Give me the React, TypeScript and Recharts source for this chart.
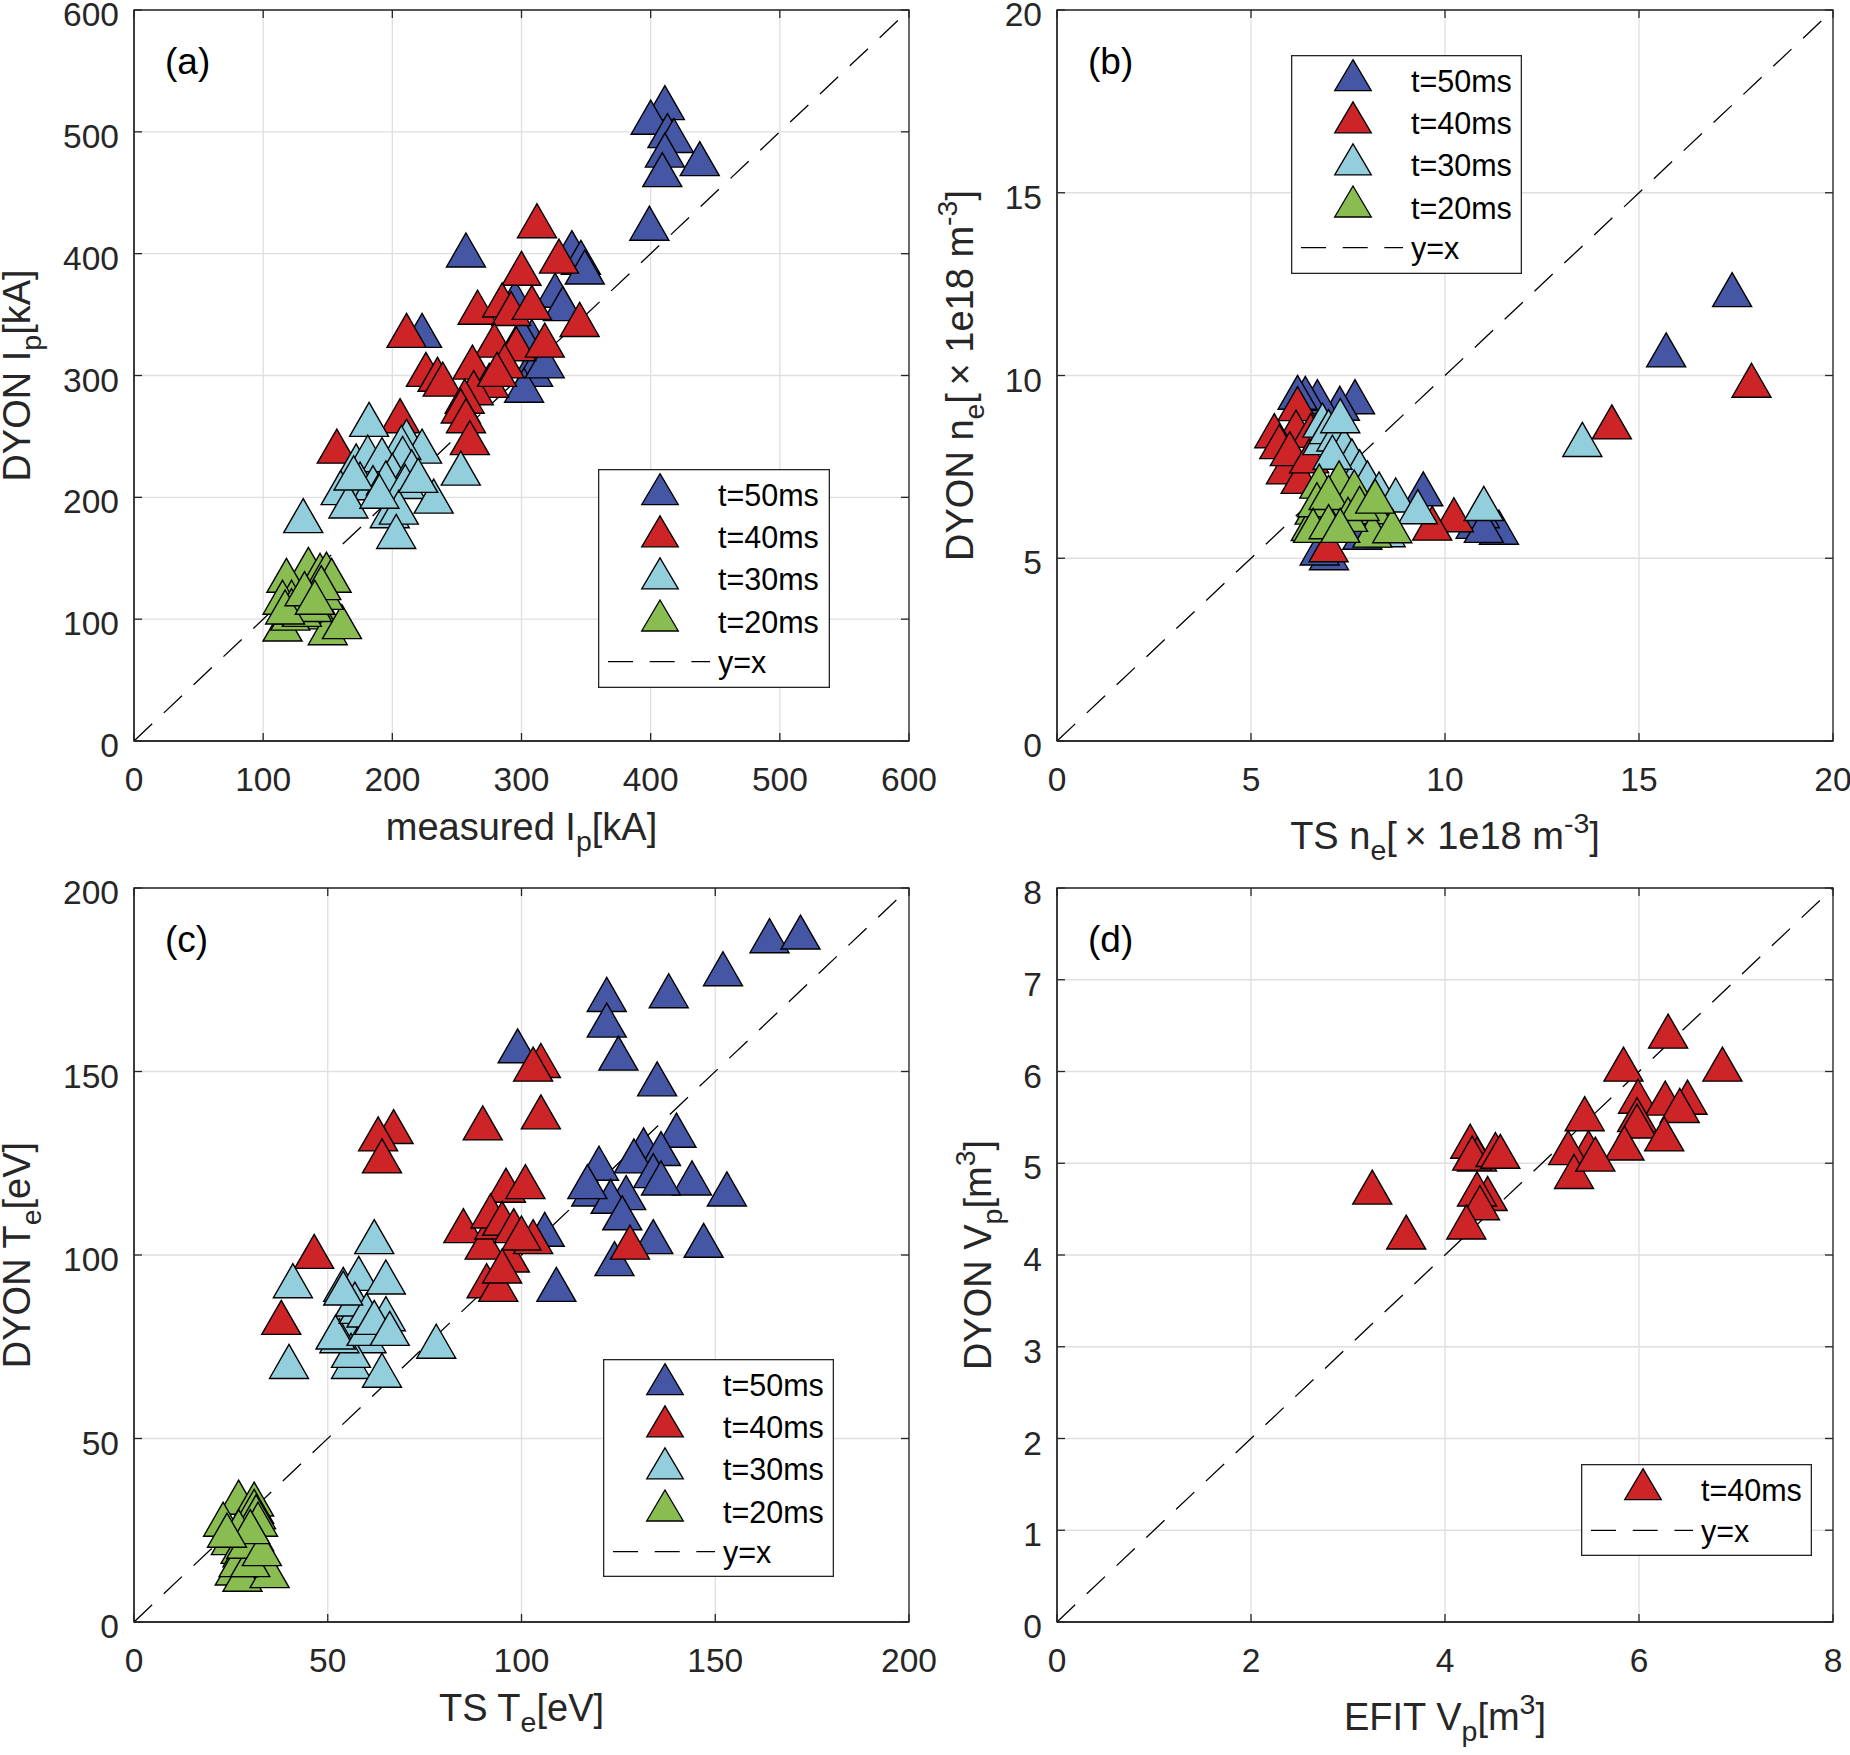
import React from 'react';
import {
  ScatterChart,
  Scatter,
  XAxis,
  YAxis,
  CartesianGrid,
  ReferenceArea,
  ReferenceLine,
  Legend,
} from 'recharts';

const FONT = '"Liberation Sans", Arial, Helvetica, sans-serif';
const INK = '#262626';
const GRID = '#dfdfdf';

const BLUE = '#4556a4';
const RED = '#cd2428';
const CYAN = '#93cedd';
const GREEN = '#89bd51';

// (a) plasma current [kA]: [measured, DYON]
const ip50 = [
  [411, 524], [400, 512], [413, 501], [418, 497], [411, 485], [409, 469], [438, 478], [399, 425],
  [257, 403], [223, 337], [339, 405], [346, 397], [349, 389], [326, 370], [332, 359], [295, 364],
  [308, 332], [312, 317], [309, 305], [302, 292], [300, 335], [318, 312],
];
const ip40 = [
  [312, 427], [329, 398], [300, 388], [266, 356], [285, 362], [292, 355], [308, 360], [345, 346],
  [211, 337], [279, 329], [296, 326], [318, 329], [226, 305], [235, 301], [239, 297], [262, 311],
  [275, 296], [263, 290], [256, 283], [253, 275], [257, 267], [260, 249], [206, 267], [157, 242],
  [287, 312], [281, 305],
];
const ip30 = [
  [182, 264], [211, 250], [223, 242], [207, 245], [172, 230], [181, 237], [192, 235], [208, 236],
  [200, 222], [215, 225], [175, 215], [185, 212], [195, 216], [210, 213], [160, 208], [166, 197],
  [198, 189], [205, 192], [203, 172], [232, 201], [253, 224], [131, 185], [170, 220], [190, 205],
  [220, 218],
];
const ip20 = [
  [135, 145], [118, 136], [144, 140], [149, 141], [153, 136], [122, 118], [128, 116], [115, 118],
  [122, 111], [141, 110], [147, 106], [115, 96], [150, 93], [161, 98], [121, 105], [125, 110],
  [130, 108], [138, 112], [117, 110], [147, 122], [145, 130], [132, 125], [140, 118],
];

// (b) electron density [1e18 m^-3]: [TS, DYON]
const ne50 = [
  [7.68, 9.42], [7.29, 9.24], [6.71, 9.42], [6.4, 9.51], [6.2, 9.54], [9.44, 6.9], [11.39, 5.85],
  [10.79, 6.01], [10.9, 6.3], [7.87, 5.71], [7.01, 5.15], [6.77, 5.28], [17.4, 12.35], [15.7, 10.7],
  [8.5, 6.0], [11.0, 5.9],
];
const ne40 = [
  [6.2, 9.23], [6.16, 8.59], [5.6, 8.49], [5.73, 8.19], [5.9, 7.5], [6.28, 7.24], [6.54, 8.5],
  [7.0, 5.37], [10.23, 6.19], [9.67, 5.96], [17.9, 9.87], [14.3, 8.73], [6.0, 8.0], [6.5, 7.8],
];
const ne30 = [
  [6.84, 8.78], [6.84, 8.3], [7.0, 8.6], [7.2, 8.4], [7.4, 8.1], [7.6, 7.8], [7.8, 7.5], [8.0, 7.2],
  [8.3, 6.9], [8.73, 6.73], [9.3, 6.41], [11.0, 6.5], [8.47, 5.78], [13.54, 8.25], [7.1, 7.9],
  [7.3, 8.9],
];
const ne20 = [
  [6.76, 7.11], [7.27, 7.2], [7.66, 6.95], [8.13, 6.41], [8.13, 5.77], [8.64, 5.89], [7.27, 6.23],
  [6.64, 6.4], [6.54, 5.95], [6.7, 6.6], [7.0, 6.8], [7.5, 6.2], [7.8, 6.5], [6.6, 5.9], [7.0, 6.0],
  [7.3, 5.9], [8.2, 6.7],
];

// (c) electron temperature [eV]: [TS, DYON]
const te50 = [
  [164, 187], [172, 188], [152, 178], [138, 172], [122, 171], [122, 164], [125, 155], [99, 157],
  [135, 148], [140, 134], [153, 118], [147, 104], [134, 105], [124, 99], [109, 92], [106, 107],
  [120, 125], [131.5, 130], [136, 129], [129, 127], [144, 121], [118, 118], [127, 117], [134, 123],
  [136, 121], [123, 116], [126, 111.5], [117, 120],
];
const te40 = [
  [67, 135], [63, 133], [64, 127], [90, 136], [105, 139], [105, 153], [103, 152], [46.5, 101],
  [38, 83], [85, 108], [96, 119], [101, 120], [90.5, 103.5], [93, 109], [91, 93], [94, 92],
  [97, 100], [103, 105], [92, 112], [95, 110], [98, 108], [100, 106], [95, 97], [128, 103.5],
];
const te30 = [
  [62, 105], [41, 93], [40, 71], [54, 92], [58, 95], [65, 94], [54, 82], [65, 84], [60, 78],
  [78, 76.5], [56, 71], [64, 68.6], [56, 74], [53, 78], [52, 79], [60, 80], [58, 86], [57, 88],
  [60, 85], [62, 83], [66, 80], [54, 91],
];
const te20 = [
  [27, 34], [31, 33.5], [31, 31.5], [31.5, 30], [32, 28], [23, 28], [31, 24], [25, 23], [27, 26],
  [27.5, 20.6], [28, 19.7], [26, 14.7], [28, 13], [35, 14], [27, 17], [30, 17], [29, 22], [33, 20],
  [30, 26], [24, 25],
];

// (d) plasma volume [m^3]: [EFIT, DYON]
const vp40 = [
  [6.3, 6.44], [6.86, 6.08], [5.84, 6.08], [5.99, 5.73], [6.27, 5.71], [6.5, 5.72], [6.42, 5.63],
  [5.44, 5.54], [5.98, 5.53], [5.98, 5.46], [6.26, 5.32], [5.85, 5.22], [5.48, 5.17], [5.27, 5.17],
  [5.33, 4.91], [5.55, 5.1], [4.26, 5.24], [4.33, 5.1], [4.28, 5.11], [4.52, 5.15], [4.57, 5.13],
  [4.44, 4.67], [4.33, 4.72], [4.36, 4.57], [4.22, 4.36], [3.6, 4.25], [3.25, 4.74],
];

const ticksIp = [0, 100, 200, 300, 400, 500, 600];
const ticksNe = [0, 5, 10, 15, 20];
const ticksTe = [0, 50, 100, 150, 200];
const ticksVpX = [0, 2, 4, 6, 8];
const ticksVpY = [0, 1, 2, 3, 4, 5, 6, 7, 8];

type Part = { t: string; sub?: boolean; sup?: boolean };
type Series = { name: string; color: string; pts: number[][] };
type Box = { left: number; top: number; w: number; h: number };
type PanelCfg = {
  pos: [number, number];
  W: number;
  H: number;
  plot: Box;
  xMax: number;
  yMax: number;
  xTicks: number[];
  yTicks: number[];
  series: Series[];
  xLabel: Part[];
  yLabel: Part[];
  xLabelDy: number;
  yLabelDx: number;
  letter: string;
  legend: Box;
};

const TICK_FS = 33.5;
const LABEL_FS = 38;
const LEGEND_FS = 30.5;
const LETTER_FS = 37;

// upward triangle centred on its bounding box
const triPath = (cx: number, cy: number, hw: number, hh: number) =>
  `M${cx},${cy - hh} L${cx + hw},${cy + hh} L${cx - hw},${cy + hh} Z`;

function rich(parts: Part[], fs: number) {
  let shift = 0;
  return parts.map((p, i) => {
    const target = p.sub ? fs * 0.3 : p.sup ? -fs * 0.42 : 0;
    const dy = target - shift;
    shift = target;
    return (
      <tspan key={i} dy={dy} fontSize={p.sub || p.sup ? fs * 0.75 : fs}>
        {p.t}
      </tspan>
    );
  });
}

function Panel({ c }: { c: PanelCfg }) {
  const { plot } = c;
  const right = plot.left + plot.w;
  const bottom = plot.top + plot.h;

  const xTick = (props: any) => {
    const { x, payload } = props;
    return (
      <g>
        <line x1={x} x2={x} y1={bottom} y2={bottom - 8} stroke={INK} strokeWidth={1.3} />
        <line x1={x} x2={x} y1={plot.top} y2={plot.top + 8} stroke={INK} strokeWidth={1.3} />
        <text x={x} y={bottom + 50} textAnchor="middle" fontSize={TICK_FS} fill={INK} fontFamily={FONT}>
          {payload.value}
        </text>
      </g>
    );
  };

  const yTick = (props: any) => {
    const { y, payload } = props;
    return (
      <g>
        <line x1={plot.left} x2={plot.left + 8} y1={y} y2={y} stroke={INK} strokeWidth={1.3} />
        <line x1={right} x2={right - 8} y1={y} y2={y} stroke={INK} strokeWidth={1.3} />
        <text x={plot.left - 15} y={y + 16} textAnchor="end" fontSize={TICK_FS} fill={INK} fontFamily={FONT}>
          {payload.value}
        </text>
      </g>
    );
  };

  const xLabel = (props: any) => {
    const vb = props.viewBox;
    return (
      <text x={vb.x + vb.width / 2} y={vb.y + c.xLabelDy} textAnchor="middle" fill={INK} fontFamily={FONT} fontSize={LABEL_FS}>
        {rich(c.xLabel, LABEL_FS)}
      </text>
    );
  };

  const yLabel = (props: any) => {
    const vb = props.viewBox;
    const cx = vb.x + vb.width + c.yLabelDx;
    const cy = vb.y + vb.height / 2;
    return (
      <text x={cx} y={cy} transform={`rotate(-90 ${cx} ${cy})`} textAnchor="middle" fill={INK} fontFamily={FONT} fontSize={LABEL_FS}>
        {rich(c.yLabel, LABEL_FS)}
      </text>
    );
  };

  const letter = (props: any) => {
    const vb = props.viewBox;
    return (
      <text x={vb.x + 31} y={vb.y + 64} fill="#000" fontFamily={FONT} fontSize={LETTER_FS}>
        {c.letter}
      </text>
    );
  };

  const lg = c.legend;
  const legendBox = () => (
    <svg width={lg.w} height={lg.h} style={{ display: 'block' }}>
      <rect x={0.65} y={0.65} width={lg.w - 1.3} height={lg.h - 1.3} fill="#fff" stroke={INK} strokeWidth={1.3} />
      {c.series.map((s, i) => {
        const cy = 20.2 + 42.1 * i;
        return (
          <g key={s.name}>
            <path d={triPath(62, cy, 18.3, 15.5)} fill={s.color} stroke="#000" strokeWidth={1.3} />
            <text x={120} y={cy + 17} fontSize={LEGEND_FS} fontFamily={FONT} fill="#000">
              {s.name}
            </text>
          </g>
        );
      })}
      {(() => {
        const cy = 20.2 + 42.1 * c.series.length;
        return (
          <g>
            <line x1={10} x2={112} y1={cy + 4} y2={cy + 4} stroke="#000" strokeWidth={1.3} strokeDasharray="25 16.7" />
            <text x={120} y={cy + 15.5} fontSize={LEGEND_FS} fontFamily={FONT} fill="#000">
              y=x
            </text>
          </g>
        );
      })()}
    </svg>
  );

  return (
    <div style={{ position: 'absolute', left: c.pos[0], top: c.pos[1] }}>
      <ScatterChart
        width={c.W}
        height={c.H}
        margin={{ top: plot.top, right: c.W - right, bottom: 0, left: 0 }}
        style={{ fontFamily: FONT }}
      >
        <CartesianGrid stroke={GRID} strokeWidth={1.3} />
        <XAxis
          type="number"
          dataKey="x"
          domain={[0, c.xMax]}
          ticks={c.xTicks}
          interval={0}
          height={c.H - bottom}
          axisLine={{ stroke: INK, strokeWidth: 1.3 }}
          tickLine={false}
          tick={xTick}
          label={xLabel}
        />
        <YAxis
          type="number"
          dataKey="y"
          domain={[0, c.yMax]}
          ticks={c.yTicks}
          interval={0}
          width={plot.left}
          axisLine={{ stroke: INK, strokeWidth: 1.3 }}
          tickLine={false}
          tick={yTick}
          label={yLabel}
        />
        <ReferenceArea
          x1={0}
          x2={c.xMax}
          y1={0}
          y2={c.yMax}
          fill="none"
          stroke={INK}
          strokeWidth={1.3}
          label={letter}
        />
        {c.series.map((s) => (
          <Scatter
            key={s.name}
            name={s.name}
            data={s.pts.map(([x, y]) => ({ x, y }))}
            isAnimationActive={false}
            shape={(p: any) => (
              <path d={triPath(p.cx, p.cy, 19.5, 17)} fill={s.color} stroke="#000" strokeWidth={1.4} />
            )}
          />
        ))}
        <ReferenceLine
          segment={[
            { x: 0, y: 0 },
            { x: c.xMax, y: c.yMax },
          ]}
          stroke="#000"
          strokeWidth={1.3}
          strokeDasharray="25 16"
        />
        <Legend
          layout="vertical"
          align="center"
          verticalAlign="middle"
          wrapperStyle={{ left: lg.left, top: lg.top, width: lg.w, height: lg.h }}
          content={legendBox}
        />
      </ScatterChart>
    </div>
  );
}

const fourTimes = (a: number[][], b: number[][], cc: number[][], d: number[][]): Series[] => [
  { name: 't=50ms', color: BLUE, pts: a },
  { name: 't=40ms', color: RED, pts: b },
  { name: 't=30ms', color: CYAN, pts: cc },
  { name: 't=20ms', color: GREEN, pts: d },
];

const NE_UNIT = '[\u2009×\u00a01e18 m';

const panels: PanelCfg[] = [
  {
    pos: [0, 0],
    W: 925,
    H: 877,
    plot: { left: 134, top: 10, w: 775, h: 731 },
    xMax: 600,
    yMax: 600,
    xTicks: ticksIp,
    yTicks: ticksIp,
    series: fourTimes(ip50, ip40, ip30, ip20),
    xLabel: [{ t: 'measured I' }, { t: 'p', sub: true }, { t: '[kA]' }],
    yLabel: [{ t: 'DYON I' }, { t: 'p', sub: true }, { t: '[kA]' }],
    xLabelDy: 99,
    yLabelDx: -104.5,
    letter: '(a)',
    legend: { left: 598, top: 469, w: 232, h: 219 },
  },
  {
    pos: [925, 0],
    W: 925,
    H: 877,
    plot: { left: 132, top: 10, w: 776, h: 731 },
    xMax: 20,
    yMax: 20,
    xTicks: ticksNe,
    yTicks: ticksNe,
    series: fourTimes(ne50, ne40, ne30, ne20),
    xLabel: [{ t: 'TS n' }, { t: 'e', sub: true }, { t: NE_UNIT }, { t: '-3', sup: true }, { t: ']' }],
    yLabel: [{ t: 'DYON n' }, { t: 'e', sub: true }, { t: NE_UNIT }, { t: '-3', sup: true }, { t: ']' }],
    xLabelDy: 108,
    yLabelDx: -84,
    letter: '(b)',
    legend: { left: 366, top: 55, w: 231, h: 219 },
  },
  {
    pos: [0, 877],
    W: 925,
    H: 878,
    plot: { left: 134, top: 11, w: 775, h: 734 },
    xMax: 200,
    yMax: 200,
    xTicks: ticksTe,
    yTicks: ticksTe,
    series: fourTimes(te50, te40, te30, te20),
    xLabel: [{ t: 'TS T' }, { t: 'e', sub: true }, { t: '[eV]' }],
    yLabel: [{ t: 'DYON T' }, { t: 'e', sub: true }, { t: '[eV]' }],
    xLabelDy: 99,
    yLabelDx: -104.5,
    letter: '(c)',
    legend: { left: 603, top: 482, w: 231, h: 218 },
  },
  {
    pos: [925, 877],
    W: 925,
    H: 878,
    plot: { left: 132, top: 11, w: 776, h: 734 },
    xMax: 8,
    yMax: 8,
    xTicks: ticksVpX,
    yTicks: ticksVpY,
    series: [{ name: 't=40ms', color: RED, pts: vp40 }],
    xLabel: [{ t: 'EFIT V' }, { t: 'p', sub: true }, { t: '[m' }, { t: '3', sup: true }, { t: ']' }],
    yLabel: [{ t: 'DYON V' }, { t: 'p', sub: true }, { t: '[m' }, { t: '3', sup: true }, { t: ']' }],
    xLabelDy: 108,
    yLabelDx: -66,
    letter: '(d)',
    legend: { left: 656, top: 587, w: 231, h: 92 },
  },
];

export default function App() {
  return (
    <div
      style={{
        position: 'absolute',
        left: 0,
        top: 0,
        width: 1850,
        height: 1755,
        background: '#fff',
        fontFamily: FONT,
      }}
    >
      {/* tick labels at the panel edges spill past each svg */}
      <style>{'.recharts-surface{overflow:visible}'}</style>
      {panels.map((p) => (
        <Panel key={p.letter} c={p} />
      ))}
    </div>
  );
}
